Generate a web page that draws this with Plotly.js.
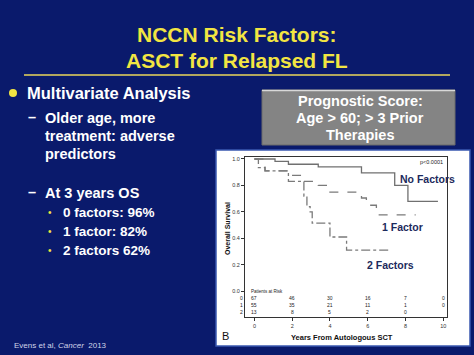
<!DOCTYPE html>
<html>
<head>
<meta charset="utf-8">
<script src="https://cdn.plot.ly/plotly-3.0.1.min.js"></script>
<style>
html,body{margin:0;padding:0;background:#0a1a6c;}
#chart{width:474px;height:355px;}
</style>
</head>
<body>
<div id="chart"></div>
<script>
// ---- Data ----
const seriesNames = ["No Factors", "1 Factor", "2 Factors"];
const noFactorsYears = [0, 1.09, 1.8, 3.38, 5.67, 7.43, 8.13, 9.72];
const noFactorsOS    = [1.0, 0.982, 0.96, 0.94, 0.895, 0.80, 0.68, 0.68];
const oneFactorYears = [0, 0.56, 1.8, 2.59, 3.38, 4.0, 5.67, 5.93, 6.46, 8.54];
const oneFactorOS    = [1.0, 0.91, 0.876, 0.83, 0.80, 0.75, 0.705, 0.65, 0.578, 0.578];
const twoFactorsYears = [0, 0.21, 0.56, 1.8, 2.62, 2.78, 2.95, 3.06, 4.0, 4.88, 7.16];
const twoFactorsOS    = [1.0, 0.935, 0.91, 0.83, 0.72, 0.64, 0.60, 0.515, 0.41, 0.31, 0.31];
const riskYears = [0, 2, 4, 6, 8, 10];
const riskGroups = ["0", "1", "2"];
const riskNoFactors  = [67, 46, 30, 16, 7, 0];
const riskOneFactor  = [55, 35, 21, 11, 1, 0];
const riskTwoFactors = [13, 8, 5, 2, 0, null];
const xTicks = [0, 2, 4, 6, 8, 10];
const yTicks = [0, 0.2, 0.4, 0.6, 0.8, 1.0];

// ---- Layout helpers (pixel -> paper) ----
const M = {l:245, r:27, t:157, b:38};
const PW = 474 - M.l - M.r, PH = 355 - M.t - M.b;
const px = v => (v - M.l) / PW;
const py = v => (355 - M.b - v) / PH;
const FONT = "Liberation Sans, Arial, sans-serif";

const lineStyle = {color:"#7a7a7a", width:1.3, shape:"hv"};
const traces = [
  {x:noFactorsYears, y:noFactorsOS, name:seriesNames[0], mode:"lines",
   line:Object.assign({}, lineStyle, {dash:"solid", color:"#707070"})},
  {x:oneFactorYears, y:oneFactorOS, name:seriesNames[1], mode:"lines",
   line:Object.assign({}, lineStyle, {dash:"dash"})},
  {x:twoFactorsYears, y:twoFactorsOS, name:seriesNames[2], mode:"lines",
   line:Object.assign({}, lineStyle, {dash:"dashdot"})}
];

const ann = [];
function txt(t, x, y, size, opts) {
  ann.push(Object.assign({text:t, x:px(x), y:py(y), xref:"paper", yref:"paper",
    showarrow:false, xanchor:"left", yanchor:"middle",
    font:{family:FONT, size:size, color:"#ffffff"}}, opts || {}));
}
// Slide title
txt("<b>NCCN Risk Factors:</b>", 237, 34, 21, {xanchor:"center", font:{family:FONT, size:21, color:"#f2e542"}});
txt("<b>ASCT for Relapsed FL</b>", 237, 60, 21, {xanchor:"center", font:{family:FONT, size:21, color:"#f2e542"}});
// Bullets
txt("<b>Multivariate Analysis</b>", 25, 93, 16.5);
txt("<b>–</b>", 26, 117, 14.5);
txt("<b>Older age, more</b>", 43, 118, 14.5);
txt("<b>treatment: adverse</b>", 43, 136, 14.5);
txt("<b>predictors</b>", 43, 154, 14.5);
txt("<b>–</b>", 26, 192, 14.5);
txt("<b>At 3 years OS</b>", 43, 193, 14.5);
txt("•", 46, 212, 10, {font:{family:FONT, size:10, color:"#f2e542"}});
txt("<b>0 factors: 96%</b>", 61, 212, 13.5);
txt("•", 46, 231, 10, {font:{family:FONT, size:10, color:"#f2e542"}});
txt("<b>1 factor: 82%</b>", 61, 231, 13.5);
txt("•", 46, 250, 10, {font:{family:FONT, size:10, color:"#f2e542"}});
txt("<b>2 factors 62%</b>", 61, 250, 13.5);
// Gray box text
txt("<b>Prognostic Score:</b>", 360, 101, 14.5, {xanchor:"center"});
txt("<b>Age &gt; 60; &gt; 3 Prior</b>", 360, 118, 14.5, {xanchor:"center"});
txt("<b>Therapies</b>", 360, 135, 14.5, {xanchor:"center"});
// Citation
txt("Evens et al, <i>Cancer</i>  2013", 12, 345, 8, {font:{family:FONT, size:8, color:"#d0d4e8"}});
// Chart labels
const dark = "#1c2a5c";
txt("<b>No Factors</b>", 427, 179, 10.5, {xanchor:"center", font:{family:FONT, size:10.5, color:dark}});
txt("<b>1 Factor</b>", 402, 227, 10.5, {xanchor:"center", font:{family:FONT, size:10.5, color:dark}});
txt("<b>2 Factors</b>", 390, 265, 10.5, {xanchor:"center", font:{family:FONT, size:10.5, color:dark}});
txt("p&lt;0.0001", 445, 162, 5.5, {xanchor:"right", font:{family:FONT, size:5.5, color:"#222"}});
txt("<b>Overall Survival</b>", 227, 229, 7, {xanchor:"center", textangle:-90, font:{family:FONT, size:7, color:"#111"}});
txt("<b>Years From Autologous SCT</b>", 342, 337, 7.5, {xanchor:"center", font:{family:FONT, size:7.5, color:"#111"}});
txt("B", 220, 336, 11, {font:{family:FONT, size:11, color:"#111"}});
txt("Patients at Risk", 249, 291, 4.5, {font:{family:FONT, size:4.5, color:"#222"}});

// Risk table (data coords for columns)
const riskRows = [riskNoFactors, riskOneFactor, riskTwoFactors];
const rowY = [298, 305, 311.5];
riskRows.forEach((row, i) => {
  ann.push({text:riskGroups[i], x:px(241.5), y:py(rowY[i]), xref:"paper", yref:"paper",
    showarrow:false, xanchor:"center", yanchor:"middle", font:{family:FONT, size:5, color:"#222"}});
  row.forEach((v, j) => {
    if (v === null) return;
    ann.push({text:String(v), x:riskYears[j], y:py(rowY[i]), xref:"x", yref:"paper",
      showarrow:false, xanchor:"center", yanchor:"middle", font:{family:FONT, size:5, color:"#222"}});
  });
});

const shapes = [
  // title underline
  {type:"line", xref:"paper", yref:"paper", x0:px(24), x1:px(450), y0:py(75), y1:py(75),
   line:{color:"#b2a75e", width:2}},
  // yellow bullet
  {type:"circle", xref:"paper", yref:"paper", x0:px(9), x1:px(17), y0:py(89), y1:py(97),
   fillcolor:"#f2e542", line:{width:0}},
  // gray box
  {type:"rect", xref:"paper", yref:"paper", x0:px(262), x1:px(455), y0:py(90), y1:py(145),
   fillcolor:"#848484", line:{color:"#6a6a6a", width:1}},
  {type:"line", xref:"paper", yref:"paper", x0:px(262), x1:px(455), y0:py(90.5), y1:py(90.5),
   line:{color:"#d8d8d8", width:1.5}},
  // white panel
  {type:"rect", xref:"paper", yref:"paper", x0:px(216), x1:px(470), y0:py(150), y1:py(346),
   fillcolor:"#ffffff", line:{color:"#3a58b0", width:1.5}, layer:"below"}
];

const axisCommon = {showgrid:false, zeroline:false, showline:true, linecolor:"#333", linewidth:1,
  mirror:true, ticks:"outside", ticklen:3, tickcolor:"#333", tickwidth:1,
  tickfont:{family:FONT, size:5.5, color:"#333"}};

const layout = {
  width:474, height:355,
  margin:M,
  paper_bgcolor:"#0a1a6c",
  plot_bgcolor:"rgba(0,0,0,0)",
  showlegend:false,
  xaxis:Object.assign({}, axisCommon, {range:[-0.5, 10.2], tickvals:xTicks, ticktext:xTicks.map(String)}),
  yaxis:Object.assign({}, axisCommon, {range:[-0.195, 1.015], tickvals:yTicks, ticktext:yTicks.map(v=>v.toFixed(1))}),
  annotations:ann,
  shapes:shapes
};

Plotly.newPlot("chart", traces, layout, {displayModeBar:false, staticPlot:true});
</script>
</body>
</html>
